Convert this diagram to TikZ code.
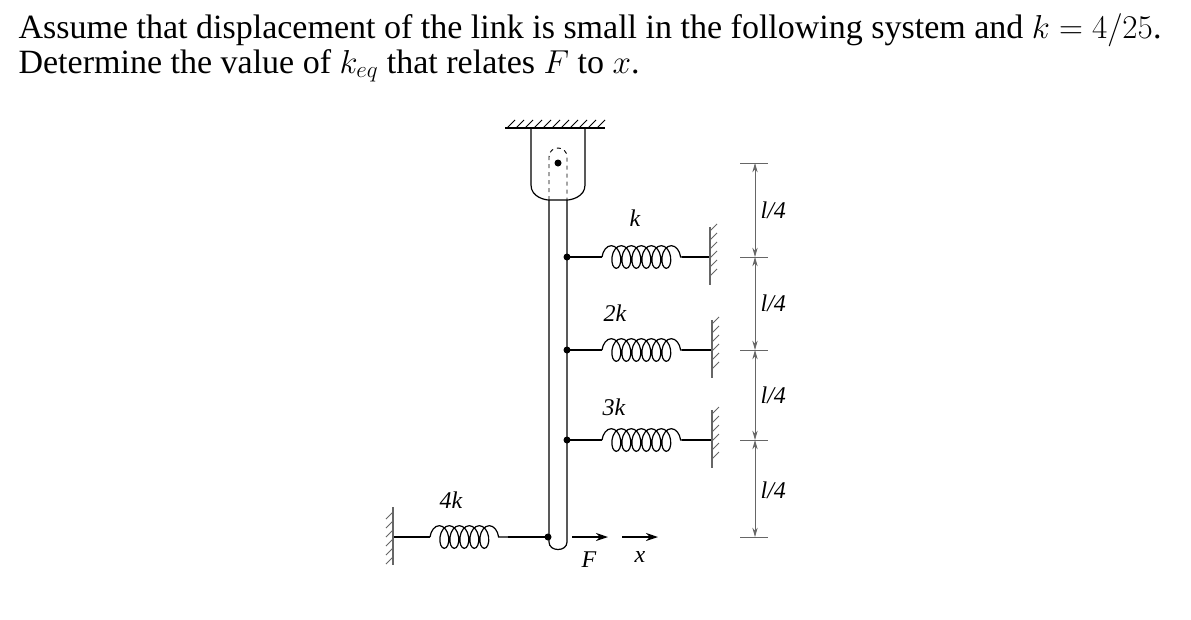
\documentclass[tikz,border=0pt]{standalone}
\usepackage{fontspec}
\setmainfont{Liberation Serif}
\usetikzlibrary{decorations.pathmorphing,arrows.meta}
\begin{document}
\begin{tikzpicture}[x=0.75pt,y=-0.75pt,line width=0.9pt,
  lbl/.style={font=\fontsize{18}{20}\selectfont\itshape,inner sep=0},
  coilspr/.style={decorate,decoration={coil,aspect=0.6,segment length=7.5pt,amplitude=8.5pt,pre length=0pt,post length=0pt}},
  gray/.style={draw=black!60}]
\useasboundingbox (0,0) rectangle (1191,619);
\node[anchor=base west,inner sep=0,font=\fontsize{25.5}{30}\selectfont] (t1) at (18,38) {Assume that displacement of the link is small in the following system and $k=4/25$.};
\node[anchor=base west,inner sep=0,font=\fontsize{25.5}{30}\selectfont] (t2) at (18,73) {Determine the value of $k_{eq}$ that relates $F$ to $x$.};
% ceiling
\draw (505,128) -- (605,128);
\foreach \i in {0,...,10} \draw[line width=0.6pt] (507+9*\i,128) -- (515+9*\i,120);
% bracket
\draw (531,128) -- (531,185) .. controls (531,197) and (545,200) .. (549,200) -- (567,200) .. controls (571,200) and (585,197) .. (585,185) -- (585,128);
\draw[dashed,line width=0.7pt] (549,200) -- (549,157) .. controls (549,145) and (567,145) .. (567,157) -- (567,200);
\fill (558,163) circle (3.5);
% rod
\draw (549,200) -- (549,542) .. controls (549,552) and (567,552) .. (567,542) -- (567,200);
% springs right
\foreach \y/\w/\lab/\ly/\lx/\n in {257/710/k/218/635/a,350/712/2k/313/615/b,440/712/3k/407/614/c}{
  \coordinate (d\n) at (567,\y);
  \coordinate (s\n) at (602,\y);
  \coordinate (e\n) at (682,\y);
  \coordinate (w\n) at (\w,\y);
  \fill (d\n) circle (3.5);
  \draw (d\n) -- (s\n);
  \draw[coilspr] (s\n) -- (e\n);
  \draw (e\n) -- (w\n);
  \draw[gray] (\w,\y-30) -- (\w,\y+28);
  \foreach \j in {0,...,5} \draw[gray,line width=0.6pt] (\w,\y-26+9*\j) -- (\w+7,\y-33+9*\j);
  \node[lbl] (l\n) at (\lx,\ly) {\lab};
}
% 4k
\coordinate (d4) at (548,537);
\coordinate (s4) at (430,537);
\coordinate (e4) at (508,537);
\coordinate (w4) at (393,537);
\fill (d4) circle (3.5);
\draw (w4) -- (s4);
\draw[coilspr] (s4) -- (e4);
\draw (e4) -- (d4);
\draw[gray] (393,507) -- (393,565);
\foreach \j in {0,...,5} \draw[gray,line width=0.6pt] (393,512+9*\j) -- (386,519+9*\j);
\node[lbl] (l4) at (451,500) {4k};
% F and x
\coordinate (f1) at (572,537); \coordinate (f2) at (608,537);
\coordinate (x1) at (622,537); \coordinate (x2) at (658,537);
\draw[line width=1.4pt,-{Stealth[length=9pt,width=6pt]}] (f1) -- (f2);
\draw[line width=1.4pt,-{Stealth[length=9pt,width=6pt]}] (x1) -- (x2);
\node[lbl] (lF) at (589,560) {F};
\node[lbl] (lx) at (640,557) {x};
% dimensions
\foreach \y/\n in {163/0,257/1,350/2,440/3,537/4}{
  \coordinate (q\n) at (755,\y);
  \draw[gray,line width=0.6pt] (740,\y) -- (768,\y);
}
\foreach \a/\b/\ly in {0/1/210,1/2/303,2/3/395,3/4/490}{
  \draw[gray,line width=0.6pt,{Stealth[length=7pt,width=4pt]}-{Stealth[length=7pt,width=4pt]}] (q\a) -- (q\b);
  \node[lbl,anchor=west] at (760,\ly) {l/4};
}
\end{tikzpicture}
\end{document}
